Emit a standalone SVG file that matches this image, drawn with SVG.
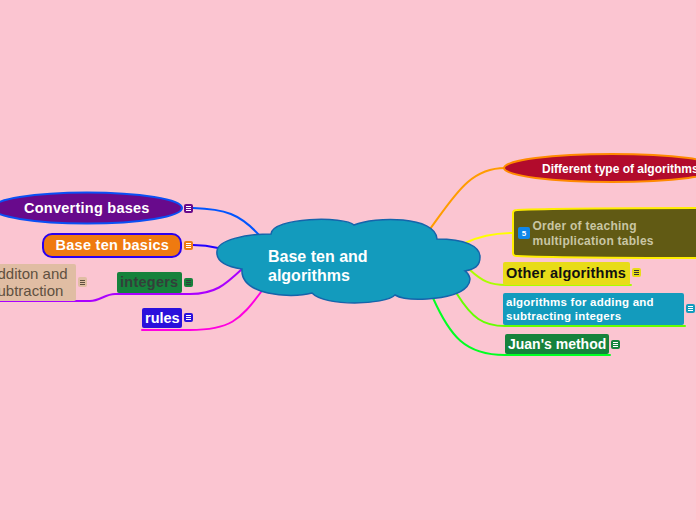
<svg xmlns="http://www.w3.org/2000/svg" width="696" height="520" viewBox="0 0 696 520">
<style>
text{font-family:"Liberation Sans",Arial,sans-serif;font-weight:700}
.c{fill:none;stroke-width:2;stroke-linecap:round}
</style>
<defs>
<g id="lines"><path d="M-2.500 -2H2.500M-2.500 0H2.500M-2.500 2H2.500" fill="none" stroke-width="1"/></g>
</defs>
<rect width="696" height="520" fill="#fbc5d1"/>
<g id="connectors">
<path class="c" stroke="#ff9c00" d="M430 229C455 195 470 168 505 168"/>
<path class="c" stroke="#ffff00" d="M465 243C480 236 495 233 514 233"/>
<path class="c" stroke="#aaff00" d="M470 270C482 281 490 285 506 285H631"/>
<path class="c" stroke="#66ff00" d="M457 294C472 318 483 326 505 326H685"/>
<path class="c" stroke="#00ff22" d="M433 298C450 336 465 355 505 355H610"/>
<path class="c" stroke="#0055ff" d="M259 235C240 214 225 209 193 208"/>
<path class="c" stroke="#2200ff" d="M218 248C210 246 205 245 193 245"/>
<path class="c" stroke="#aa00ff" d="M242 269C225 285 215 294 190 294H115C105 294 100 301 90 301H0"/>
<path class="c" stroke="#ff00e0" d="M261 292C240 320 230 330 190 330H142"/>
</g>
<g id="central">
<path d="M271 234C272 217 345 216 354 225C375 216 436 216 437 239C465 239 480 246 480 257C480 266 475 269 465 271C475 278 473 296 427 299C410 300 400 298 395 295C385 305 325 307 312 293C290 299 240 295 242 269C222 266 216 259 217 251C218 240 245 234 271 234Z" fill="#139bbd" stroke="#1564ab" stroke-width="1.500"/>
<text x="268" y="262" font-size="16" fill="#fff">Base ten and</text>
<text x="268" y="281" font-size="16" fill="#fff">algorithms</text>
</g>
<g id="converting">
<ellipse cx="87" cy="208" rx="95" ry="15.500" fill="#680a8c" stroke="#0a50f5" stroke-width="2"/>
<text x="24" y="213" font-size="14.500" letter-spacing=".25" fill="#fff">Converting bases</text>
<rect x="184" y="204" width="9" height="9" rx="2" fill="#680a8c"/><use href="#lines" x="188.500" y="208.500" stroke="#fff"/>
</g>
<g id="baseten">
<rect x="43" y="234" width="138" height="23" rx="9" fill="#ef7a10" stroke="#2a00f0" stroke-width="2"/>
<text x="55.500" y="250" font-size="14.500" letter-spacing=".27" fill="#fff">Base ten basics</text>
<rect x="184" y="241" width="9" height="9" rx="2" fill="#ef7a10"/><use href="#lines" x="188.500" y="245.500" stroke="#fff"/>
</g>
<g id="addition">
<rect x="-10" y="264" width="86" height="37" rx="2" fill="#e0bda3"/>
<text x="-12.500" y="279" font-size="15" fill="#5f5040" style="font-weight:400">Additon and</text>
<text x="-12.500" y="296" font-size="15" fill="#5f5040" style="font-weight:400">Subtraction</text>
<rect x="78" y="277" width="9" height="10" rx="2" fill="#e0bda3"/><use href="#lines" x="82.500" y="282.500" stroke="#5f5040"/>
</g>
<g id="integers">
<rect x="117" y="272" width="65" height="21" rx="2" fill="#16823c"/>
<text x="120" y="287" font-size="14.500" letter-spacing=".25" fill="#333f3a">integers</text>
<rect x="184" y="278" width="9" height="9" rx="2" fill="#16823c"/><use href="#lines" x="188.500" y="282.500" stroke="#333f3a"/>
</g>
<g id="rules">
<rect x="142" y="308" width="40" height="20" rx="2" fill="#2a10dc"/>
<text x="145" y="323" font-size="14.500" fill="#fff">rules</text>
<rect x="184" y="313" width="9" height="9" rx="2" fill="#2a10dc"/><use href="#lines" x="188.500" y="317.500" stroke="#fff"/>
</g>
<g id="different">
<ellipse cx="612" cy="168" rx="108" ry="14" fill="#b20b2c" stroke="#ff8a00" stroke-width="2"/>
<text x="542" y="173" font-size="12" fill="#fff">Different type of algorithms</text>
</g>
<g id="order">
<path d="M513 213Q513 210 517 210C560 208 650 208 700 208V258C650 258 560 258 517 256Q513 256 513 253Z" fill="#615a14" stroke="#ffee00" stroke-width="2"/>
<rect x="518" y="227" width="12" height="12" rx="2" fill="#0f86e8"/>
<text x="524" y="236" font-size="8" text-anchor="middle" fill="#fff">5</text>
<text x="532.500" y="230" font-size="12" letter-spacing=".25" fill="#c9c6a4">Order of teaching</text>
<text x="532.500" y="245" font-size="12" letter-spacing=".25" fill="#c9c6a4">multiplication tables</text>
</g>
<g id="other">
<rect x="503" y="262" width="127" height="23" rx="2" fill="#e8dc18"/>
<text x="506" y="278" font-size="14.500" letter-spacing=".2" fill="#111">Other algorithms</text>
<rect x="632" y="268" width="9" height="9" rx="2" fill="#e8dc18"/><use href="#lines" x="636.500" y="272.500" stroke="#333"/>
</g>
<g id="adding">
<rect x="503" y="293" width="181" height="32" rx="2" fill="#139bbd"/>
<text x="506" y="306" font-size="11.500" letter-spacing=".24" fill="#fff">algorithms for adding and</text>
<text x="506" y="320" font-size="11.500" letter-spacing=".24" fill="#fff">subtracting integers</text>
<rect x="686" y="304" width="9" height="9" rx="2" fill="#139bbd"/><use href="#lines" x="690.500" y="308.500" stroke="#fff"/>
</g>
<g id="juan">
<rect x="505" y="334" width="104" height="20" rx="2" fill="#16823c"/>
<text x="508" y="349" font-size="14" fill="#fff">Juan's method</text>
<rect x="611" y="340" width="9" height="9" rx="2" fill="#16823c"/><use href="#lines" x="615.500" y="344.500" stroke="#fff"/>
</g>
</svg>
